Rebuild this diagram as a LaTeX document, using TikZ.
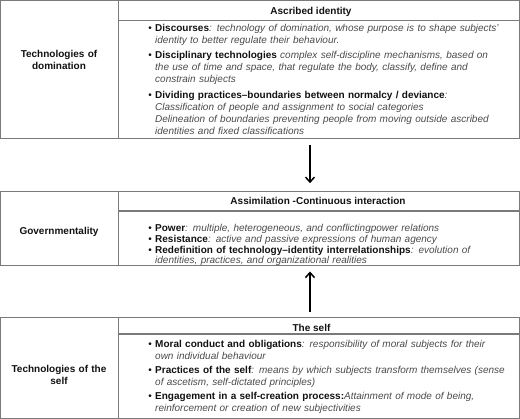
\documentclass[tikz,border=0pt]{standalone}
\usepackage{fontspec}
\setmainfont{Liberation Sans}
\usetikzlibrary{arrows.meta,calc}
\definecolor{rulecol}{HTML}{7A7A7A}
\definecolor{italcol}{HTML}{4A4A4A}
\definecolor{boldcol}{HTML}{111111}
\newcommand{\dsc}[1]{{\color{italcol}\itshape #1}}
\newcommand{\bul}{\llap{\textbullet\ }}
\begin{document}
\begin{tikzpicture}[x=1pt,y=-1pt,
  frame/.style={draw=rulecol,line width=1.2pt,rectangle,inner sep=0pt,outer sep=0pt,anchor=north west},
  rulel/.style={draw=rulecol,line width=1.2pt},
  head/.style={font=\bfseries,text=boldcol,anchor=base,inner sep=0pt},
  side/.style={font=\bfseries\fontsize{10}{11.4}\selectfont,text=boldcol,align=center,text width=112pt,anchor=base,inner sep=0pt},
  item/.style={anchor=base west,inner sep=0pt,text width=365pt,align=left,text=boldcol,font=\fontsize{10}{11.9}\selectfont},
  itemb/.style={item,font=\fontsize{10}{10.5}\selectfont},
  arr/.style={line width=1.5pt,-{Straight Barb[length=5pt,width=9pt]}}]
\useasboundingbox (0,0) rectangle (520,419);
% box 1
\node[frame,minimum width=518.8pt,minimum height=138.2pt] (b1) at (0.6,0.6) {};
\draw[rulel] (118.3,0.6) -- (118.3,138.8);
\draw[rulel] (118.3,20.3) -- (519.4,20.3);
\node[side] (l1) at (59,57.8) {Technologies of\\domination};
\node[head] (h1) at (311,14.5) {Ascribed identity};
\node[item] (i11) at (155,31.8) {\bul\textbf{Discourses}\dsc{: technology of domination, whose purpose is to shape subjects'}\\\dsc{identity to better regulate their behaviour.}};
\node[item] (i12) at (155,58.5) {\bul\textbf{Disciplinary technologies} \dsc{complex self-discipline mechanisms, based on}\\\dsc{the use of time and space, that regulate the body, classify, define and}\\\dsc{constrain subjects}};
\node[item] (i13) at (155,98.5) {\bul\textbf{Dividing practices--boundaries between normalcy / deviance}\dsc{:}\\\dsc{Classification of people and assignment to social categories}\\\dsc{Delineation of boundaries preventing people from moving outside ascribed}\\\dsc{identities and fixed classifications}};
% box 2
\node[frame,minimum width=518.8pt,minimum height=74.3pt] (b2) at (0.6,191.2) {};
\draw[rulel] (118.3,191.2) -- (118.3,265.5);
\draw[rulel] (118.3,211) -- (519.4,211);
\node[side] (l2) at (59,234.2) {Governmentality};
\node[head] (h2) at (318,204.5) {Assimilation -Continuous interaction};
\node[itemb] (i21) at (155,231.6) {\bul\textbf{Power}\dsc{: multiple, heterogeneous, and conflictingpower relations}};
\node[itemb] (i22) at (155,242.6) {\bul\textbf{Resistance}\dsc{: active and passive expressions of human agency}};
\node[itemb] (i23) at (155,253.3) {\bul\textbf{Redefinition of technology--identity interrelationships}\dsc{: evolution of}\\\dsc{identities, practices, and organizational realities}};
% box 3
\node[frame,minimum width=518.8pt,minimum height=100.6pt] (b3) at (0.6,317.8) {};
\draw[rulel] (118.3,317.8) -- (118.3,418.4);
\draw[rulel] (118.3,334) -- (519.4,334);
\node[side] (l3) at (59,372.8) {Technologies of the\\self};
\node[head] (h3) at (311.5,331.2) {The self};
\node[item] (i31) at (155,347.5) {\bul\textbf{Moral conduct and obligations}\dsc{: responsibility of moral subjects for their}\\\dsc{own individual behaviour}};
\node[item] (i32) at (155,373.5) {\bul\textbf{Practices of the self}\dsc{: means by which subjects transform themselves (sense}\\\dsc{of ascetism, self-dictated principles)}};
\node[item] (i33) at (155,400) {\bul\textbf{Engagement in a self-creation process:}\dsc{Attainment of mode of being,}\\\dsc{reinforcement or creation of new subjectivities}};
% arrows
\coordinate (ax) at (310,0);
\draw[arr] ($(b1.south -| ax)+(0,6)$) -- ($(b2.north -| ax)+(0,-8)$);
\draw[arr] ($(b3.north -| ax)+(0,-6)$) -- ($(b2.south -| ax)+(0,6)$);
\end{tikzpicture}
\end{document}
